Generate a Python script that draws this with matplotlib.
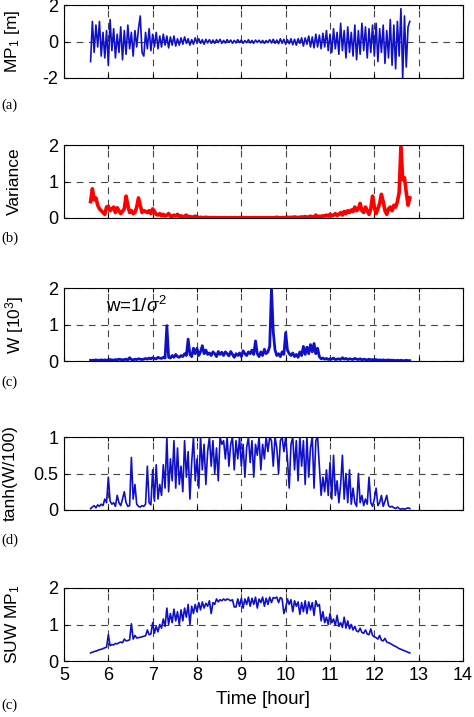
import matplotlib
matplotlib.use('Agg')
import matplotlib.pyplot as plt
import numpy as np

# sampling of the record: 5.6 h to 12.8 h, every 0.04 h
t_first = 5.6
t_last = 12.8

mp1 = [
    -1.1, 1.1, -0.6, 0.9, -0.3, 1.1, -0.8, 0.5, -0.9, 0.6,
    -1.3, 1.2, -0.5, 0.7, -0.9, 0.4, -0.6, 0.8, -1.0, 0.6,
    -0.7, 0.9, -0.4, 0.5, -0.8, 0.6, -0.3, 0.7, 1.4, -0.6,
    -0.8, 0.5, -0.4, 0.7, -0.5, 0.4, -0.3, 0.5, -0.4, 0.3,
    -0.3, 0.4, -0.2, 0.3, -0.35, 0.25, -0.2, 0.3, -0.25, 0.15,
    -0.2, 0.2, -0.15, 0.25, -0.1, 0.15, -0.2, 0.1, -0.15, 0.2,
    -0.1, 0.15, -0.1, 0.1, -0.15, 0.12, -0.08, 0.1, -0.1, 0.08,
    -0.1, 0.1, -0.06, 0.12, -0.1, 0.06, -0.08, 0.1, -0.05, 0.08,
    -0.1, 0.06, -0.08, 0.1, -0.06, 0.08, -0.1, 0.05, -0.07, 0.1,
    -0.08, 0.06, -0.1, 0.08, -0.05, 0.07, -0.08, 0.06, -0.1, 0.05,
    -0.06, 0.1, -0.08, 0.12, -0.1, 0.08, -0.12, 0.15, -0.1, 0.12,
    -0.15, 0.1, -0.12, 0.15, -0.18, 0.12, -0.2, 0.15, -0.1, 0.2,
    -0.25, 0.2, -0.15, 0.3, -0.3, 0.25, -0.35, 0.4, -0.3, 0.35,
    -0.4, 0.45, -0.3, 0.6, -0.5, 0.4, -0.6, 0.7, -0.4, 0.5,
    -0.7, 1.0, -0.5, 0.6, -0.9, 0.8, -0.6, 0.5, -0.8, 0.9,
    -1.0, 0.6, -0.7, 1.0, -0.5, 0.8, -0.9, 0.7, -0.6, 0.9,
    -0.8, 1.0, -1.1, 0.7, -0.6, 0.9, -1.2, 0.6, -0.9, 1.2,
    -1.3, 0.9, -1.5, 1.1, -0.8, 1.8, -2.0, 1.4, -1.4, 0.8,
    1.1,
]

variance = [
    0.45, 0.8, 0.5, 0.55, 0.35, 0.25, 0.2, 0.15, 0.1, 0.3,
    0.32, 0.2, 0.25, 0.3, 0.15, 0.28, 0.2, 0.12, 0.18, 0.25,
    0.6, 0.35, 0.15, 0.2, 0.12, 0.15, 0.3, 0.55, 0.35, 0.15,
    0.2, 0.18, 0.15, 0.2, 0.12, 0.25, 0.18, 0.1, 0.08, 0.12,
    0.06, 0.1, 0.05, 0.08, 0.12, 0.05, 0.04, 0.08, 0.05, 0.1,
    0.04, 0.06, 0.03, 0.05, 0.08, 0.03, 0.04, 0.02, 0.03, 0.05,
    0.02, 0.01, 0.02, 0.01, 0.01, 0.02, 0.01, 0.01, 0.01, 0.01,
    0.01, 0.005, 0.01, 0.005, 0.01, 0.005, 0.01, 0.005, 0.005, 0.01,
    0.005, 0.01, 0.005, 0.005, 0.01, 0.005, 0.01, 0.005, 0.01, 0.005,
    0.005, 0.01, 0.005, 0.01, 0.005, 0.005, 0.01, 0.005, 0.01, 0.005,
    0.01, 0.005, 0.01, 0.005, 0.01, 0.02, 0.01, 0.005, 0.01, 0.01,
    0.01, 0.02, 0.01, 0.02, 0.01, 0.03, 0.02, 0.01, 0.02, 0.03,
    0.02, 0.04, 0.02, 0.03, 0.05, 0.02, 0.03, 0.08, 0.03, 0.05,
    0.04, 0.06, 0.05, 0.08, 0.05, 0.1, 0.06, 0.08, 0.12, 0.07,
    0.1, 0.15, 0.08, 0.18, 0.12, 0.2, 0.15, 0.22, 0.18, 0.3,
    0.2, 0.25, 0.4, 0.2, 0.15, 0.3, 0.2, 0.1, 0.25, 0.6,
    0.3, 0.12, 0.25, 0.4, 0.65, 0.45, 0.2, 0.1, 0.25, 0.3,
    0.2, 0.35, 0.3, 0.45, 0.7, 1.95, 1.05, 1.1, 0.7, 0.35,
    0.55,
]

weight = [
    0.02, 0.02, 0.02, 0.03, 0.02, 0.02, 0.03, 0.02, 0.03, 0.02,
    0.03, 0.04, 0.03, 0.02, 0.04, 0.03, 0.05, 0.04, 0.03, 0.04,
    0.05, 0.03, 0.09, 0.04, 0.03, 0.05, 0.04, 0.06, 0.05, 0.04,
    0.05, 0.07, 0.05, 0.08, 0.06, 0.09, 0.07, 0.06, 0.1, 0.08,
    0.07, 0.1, 0.08, 0.97, 0.1, 0.08, 0.15, 0.1, 0.18, 0.12,
    0.1, 0.15, 0.12, 0.2, 0.15, 0.6, 0.18, 0.12, 0.35, 0.2,
    0.35, 0.15, 0.25, 0.42, 0.2, 0.3, 0.18, 0.22, 0.15, 0.25,
    0.2, 0.12, 0.26, 0.18, 0.24, 0.15, 0.25, 0.2, 0.14, 0.26,
    0.18, 0.1, 0.2, 0.15, 0.22, 0.12, 0.28, 0.2, 0.15, 0.25,
    0.2, 0.3, 0.18, 0.55, 0.2, 0.12, 0.25, 0.15, 0.32, 0.2,
    0.25, 0.4, 2.0, 0.8, 0.3, 0.15, 0.2, 0.12, 0.25, 0.18,
    0.78, 0.3, 0.2, 0.15, 0.22, 0.12, 0.18, 0.1, 0.25, 0.15,
    0.4, 0.18, 0.38, 0.2, 0.45, 0.25, 0.48, 0.2, 0.35, 0.12,
    0.06, 0.08, 0.05, 0.07, 0.04, 0.06, 0.05, 0.08, 0.04, 0.05,
    0.06, 0.04, 0.09, 0.05, 0.07, 0.04, 0.06, 0.05, 0.04, 0.07,
    0.05, 0.04, 0.06, 0.03, 0.05, 0.04, 0.03, 0.05, 0.03, 0.04,
    0.03, 0.04, 0.02, 0.03, 0.02, 0.03, 0.02, 0.02, 0.03, 0.02,
    0.02, 0.02, 0.01, 0.02, 0.01, 0.02, 0.01, 0.01, 0.02, 0.01,
    0.01,
]

tanh_w = [
    0.02, 0.04, 0.06, 0.03, 0.07, 0.05, 0.08, 0.06, 0.15, 0.1,
    0.45, 0.12, 0.08, 0.1, 0.05, 0.2, 0.1, 0.06, 0.15, 0.25,
    0.1, 0.05, 0.06, 0.72, 0.15, 0.35, 0.08, 0.05, 0.04, 0.06,
    0.05, 0.08, 0.6, 0.1, 0.07, 0.55, 0.12, 0.62, 0.15, 0.35,
    0.2, 0.62, 0.3, 1.0, 0.25, 0.7, 0.4, 0.95, 0.3, 0.85,
    0.35, 0.6, 0.25, 0.95, 0.45, 0.8, 0.15, 0.65, 1.0, 0.4,
    0.7, 0.3, 1.0, 0.55, 0.9, 0.35, 0.8, 1.0, 0.6, 0.95,
    0.5, 0.85, 0.4, 1.0, 0.9, 0.95, 0.7, 1.0, 0.6, 0.9,
    1.0, 0.55, 0.95, 0.7, 1.0, 0.6, 0.9, 0.45, 0.85, 1.0,
    0.65, 0.95, 0.45, 0.9, 0.75, 1.0, 0.55, 0.9, 0.7, 1.0,
    0.8, 1.0, 0.95, 0.6, 1.0, 0.85, 0.5, 0.95, 1.0, 0.8,
    1.0, 0.7, 0.3, 0.9, 1.0, 0.55, 0.95, 0.4, 1.0, 0.6,
    0.95, 0.35, 1.0, 0.45, 0.85, 1.0, 0.3, 0.95, 1.0, 0.6,
    0.2, 0.45, 0.25, 0.55, 0.2, 0.65, 0.15, 0.75, 0.2, 0.4,
    0.1, 0.35, 0.75, 0.15, 0.5, 0.1, 0.55, 0.08, 0.3, 0.1,
    0.05, 0.5, 0.1, 0.2, 0.06, 0.15, 0.08, 0.45, 0.1, 0.05,
    0.15, 0.3, 0.06, 0.1, 0.2, 0.05, 0.12, 0.2, 0.06, 0.04,
    0.05, 0.03, 0.02, 0.04, 0.02, 0.01, 0.02, 0.01, 0.02, 0.03,
    0.02,
]

suw_mp1 = [
    0.22, 0.24, 0.26, 0.27, 0.29, 0.31, 0.32, 0.34, 0.36, 0.38,
    0.72, 0.42, 0.45, 0.44, 0.48, 0.47, 0.5, 0.52, 0.5, 0.6,
    0.55, 0.56, 0.58, 1.02, 0.6, 0.7, 0.63, 0.64, 0.65, 0.66,
    0.68, 0.69, 0.85, 0.72, 0.74, 1.05, 0.76, 0.95, 0.8, 1.0,
    0.9, 1.15, 0.95, 1.45, 1.0, 1.3, 1.05, 1.42, 1.1, 1.35,
    1.0, 1.4, 1.1, 1.45, 1.2, 1.55, 1.0, 1.5, 1.3, 1.55,
    1.35, 1.6, 1.4, 1.62, 1.45, 1.58, 1.5, 1.65, 1.3, 1.6,
    1.55, 1.7, 1.62, 1.68, 1.65, 1.7, 1.66, 1.7, 1.68, 1.65,
    1.68, 1.48, 1.48, 1.7, 1.5, 1.72, 1.45, 1.7, 1.55, 1.75,
    1.5, 1.72, 1.55, 1.75, 1.45, 1.7, 1.6, 1.75, 1.5, 1.72,
    1.55, 1.75, 1.6, 1.74, 1.72, 1.75, 1.6, 1.74, 1.7, 1.3,
    1.45, 1.7, 1.55, 1.68, 1.35, 1.65, 1.5, 1.62, 1.28, 1.6,
    1.35, 1.65, 1.3, 1.62, 1.4, 1.6, 1.25, 1.65, 1.5, 1.55,
    1.1, 1.35, 1.05, 1.2, 1.0, 1.3, 1.05, 1.15, 0.98, 1.25,
    0.95, 1.05, 0.92, 1.2, 0.9, 1.1, 0.88, 1.0, 0.85, 0.95,
    0.82, 0.8, 0.9, 0.78, 0.76, 0.85, 0.74, 0.72, 0.88, 0.7,
    0.66, 0.64, 0.6, 0.7, 0.57, 0.55, 0.62, 0.52, 0.5, 0.48,
    0.45, 0.42, 0.4, 0.37, 0.34, 0.32, 0.3, 0.28, 0.26, 0.24,
    0.22,
]

x_ticks = [5, 6, 7, 8, 9, 10, 11, 12, 13, 14]

plt.rcParams['font.family'] = ['Liberation Sans', 'DejaVu Sans']
plt.rcParams['mathtext.fontset'] = 'custom'
plt.rcParams['mathtext.rm'] = 'Liberation Sans'
plt.rcParams['mathtext.it'] = 'Liberation Sans:italic'

blue = '#1010c8'
red = '#ff0000'

panels = [
    (mp1, blue, 1.2, (-2, 2), [-2, 0, 2], ['-2', '0', '2'], 'MP$_1$ [m]', '(a)'),
    (variance, red, 2.6, (0, 2), [0, 1, 2], ['0', '1', '2'], 'Variance', '(b)'),
    (weight, blue, 2.0, (0, 2), [0, 1, 2], ['0', '1', '2'], 'W [10$^3$]', '(c)'),
    (tanh_w, blue, 1.2, (0, 1), [0, 0.5, 1], ['0', '0.5', '1'], 'tanh(W/100)', '(d)'),
    (suw_mp1, blue, 1.2, (0, 2), [0, 1, 2], ['0', '1', '2'], 'SUW MP$_1$', '(c)'),
]

# axes boxes in pixels (top, bottom) measured on the 474x717 picture
boxes = [(5, 78), (145, 218), (288, 361), (437, 510), (588, 661)]
letter_y = [105, 238, 382, 540, 705]
label_x = [-0.105, -0.105, -0.095, -0.115, -0.105]

W, H = 474, 717
fig = plt.figure(figsize=(W / 100, H / 100), dpi=100)

for k, (vals, col, lw, ylim, yt, ytl, ylab, letter) in enumerate(panels):
    top, bot = boxes[k]
    ax = fig.add_axes([64 / W, 1 - bot / H, 399 / W, (bot - top) / H])
    t = np.linspace(t_first, t_last, len(vals))
    ax.plot(t, vals, color=col, lw=lw)
    ax.set_xlim(5, 14)
    ax.set_ylim(*ylim)
    ax.set_xticks(x_ticks)
    ax.set_yticks(yt)
    ax.set_yticklabels(ytl)
    ax.grid(True, color='#444444', linestyle=(0, (6, 5)), lw=0.8)
    ax.tick_params(direction='in', top=True, right=True, labelsize=13,
                   length=3, pad=4)
    if k < 4:
        ax.set_xticklabels([])
    else:
        ax.set_xlabel('Time [hour]', fontsize=13.5, labelpad=5)
    ax.set_ylabel(ylab, fontsize=12.5)
    ax.yaxis.set_label_coords(label_x[k], 0.5)
    for s in ax.spines.values():
        s.set_linewidth(0.8)
    fig.text(1 / W, 1 - letter_y[k] / H, letter, family='Liberation Serif',
             fontsize=10.5, va='center', ha='left')
    if k == 2:
        ax.text(5.95, 1.5, 'w=1/$\\sigma^2$', fontsize=13.5, va='center')

fig.savefig('out.png', dpi=100)
